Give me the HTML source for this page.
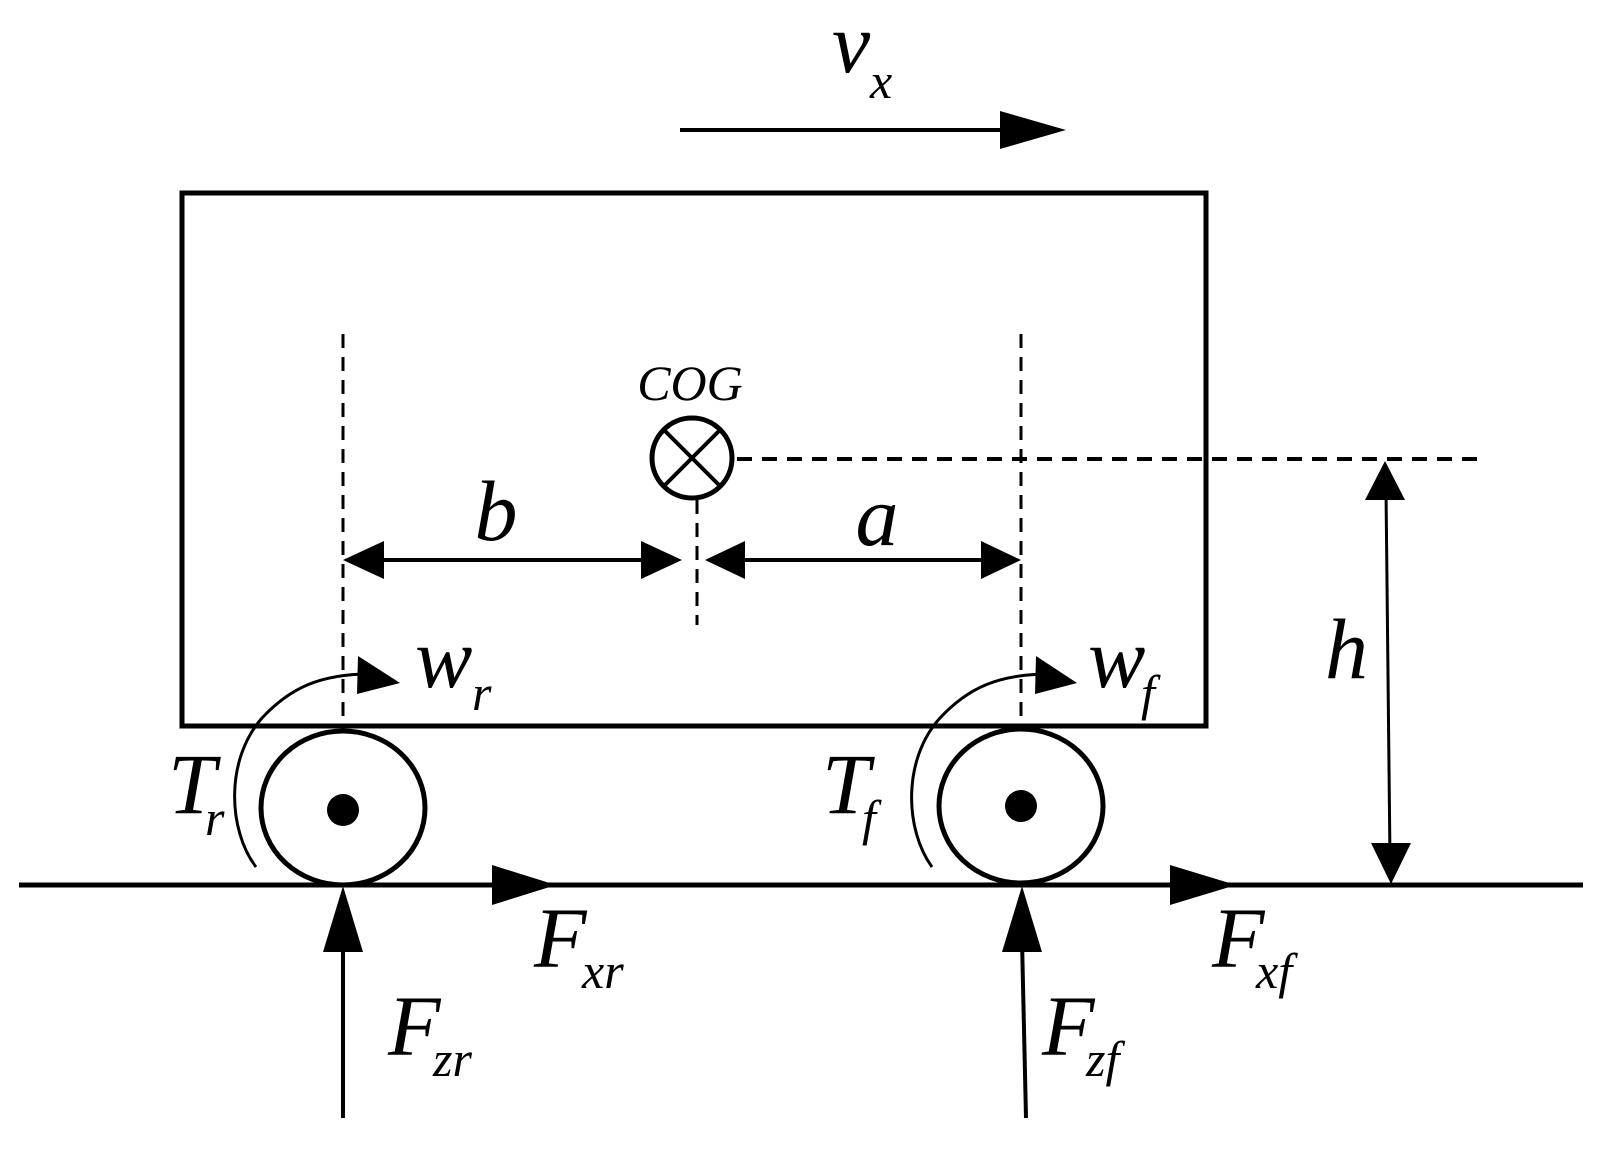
<!DOCTYPE html>
<html><head><meta charset="utf-8"><style>
html,body{margin:0;padding:0;background:#fff;}
svg{display:block;}
text{font-family:"Liberation Serif",serif;font-style:italic;fill:#000;}
</style></head><body>
<svg width="1619" height="1153" viewBox="0 0 1619 1153" xmlns="http://www.w3.org/2000/svg">
<!-- vx arrow -->
<line x1="680" y1="130" x2="1005" y2="130" stroke="#000" stroke-width="4"/>
<polygon points="1000,111 1066,130 1000,149" fill="#000"/>
<text x="832" y="72" font-size="86">v</text>
<text x="870" y="98" font-size="50">x</text>
<!-- body -->
<rect x="182" y="193" width="1024" height="533" fill="none" stroke="#000" stroke-width="5"/>
<!-- dashed verticals -->
<line x1="343" y1="334" x2="343" y2="724" stroke="#000" stroke-width="3" stroke-dasharray="14,9"/>
<line x1="1021" y1="334" x2="1021" y2="724" stroke="#000" stroke-width="3" stroke-dasharray="14,9"/>
<line x1="697" y1="500" x2="697" y2="625" stroke="#000" stroke-width="3" stroke-dasharray="14,9"/>
<line x1="737" y1="459" x2="1477" y2="459" stroke="#000" stroke-width="4" stroke-dasharray="15,10"/>
<!-- COG -->
<ellipse cx="692" cy="458" rx="40" ry="40" fill="none" stroke="#000" stroke-width="5"/>
<line x1="664" y1="430" x2="720" y2="486" stroke="#000" stroke-width="4"/>
<line x1="720" y1="430" x2="664" y2="486" stroke="#000" stroke-width="4"/>
<text x="690" y="400" font-size="50" text-anchor="middle">COG</text>
<!-- b / a dims -->
<line x1="360" y1="560" x2="665" y2="560" stroke="#000" stroke-width="4"/>
<polygon points="343,560 384,541 384,579" fill="#000"/>
<polygon points="682,560 641,541 641,579" fill="#000"/>
<line x1="720" y1="560" x2="1005" y2="560" stroke="#000" stroke-width="4"/>
<polygon points="705,560 745,541 745,579" fill="#000"/>
<polygon points="1021,560 981,541 981,579" fill="#000"/>
<text x="496" y="540" font-size="86" text-anchor="middle">b</text>
<text x="877" y="545" font-size="86" text-anchor="middle">a</text>
<!-- h -->
<line x1="1386" y1="490" x2="1390" y2="860" stroke="#000" stroke-width="3"/>
<polygon points="1385,461 1405,500 1365,500" fill="#000"/>
<polygon points="1391,884 1371,843 1411,843" fill="#000"/>
<text x="1325" y="678" font-size="86">h</text>
<!-- ground -->
<line x1="19" y1="885" x2="1583" y2="885" stroke="#000" stroke-width="5"/>
<!-- wheels -->
<ellipse cx="343" cy="808" rx="82" ry="77" fill="#fff" stroke="#000" stroke-width="5"/>
<circle cx="343" cy="810" r="16" fill="#000"/>
<ellipse cx="1021" cy="806" rx="82" ry="77" fill="#fff" stroke="#000" stroke-width="5"/>
<circle cx="1021" cy="806" r="16" fill="#000"/>
<!-- torque arcs -->
<path d="M256,867 C228,830 225,760 262,718 C290,688 320,674 370,674" fill="none" stroke="#000" stroke-width="3"/>
<polygon points="358,656 400,683 357,694" fill="#000"/>
<path d="M932,867 C905,830 902,760 940,718 C968,688 998,674 1050,674" fill="none" stroke="#000" stroke-width="3"/>
<polygon points="1036,656 1077,683 1035,694" fill="#000"/>
<text x="415" y="687" font-size="86">w</text>
<text x="472" y="710" font-size="50">r</text>
<text x="1088" y="687" font-size="86">w</text>
<text x="1141" y="710" font-size="50">f</text>
<text x="168" y="813" font-size="86">T</text>
<text x="205" y="835" font-size="50">r</text>
<text x="822" y="813" font-size="86">T</text>
<text x="862" y="835" font-size="50">f</text>
<!-- Fx arrows -->
<polygon points="492,865 556,885 492,905" fill="#000"/>
<polygon points="1170,865 1236,885 1170,905" fill="#000"/>
<text x="534" y="967" font-size="86">F</text>
<text x="582" y="988" font-size="50">xr</text>
<text x="1212" y="967" font-size="86">F</text>
<text x="1256" y="988" font-size="50">xf</text>
<!-- Fz arrows -->
<line x1="343" y1="940" x2="343" y2="1118" stroke="#000" stroke-width="4"/>
<polygon points="343,886 363,952 323,952" fill="#000"/>
<line x1="1022" y1="940" x2="1026" y2="1118" stroke="#000" stroke-width="4"/>
<polygon points="1022,886 1042,952 1002,952" fill="#000"/>
<text x="388" y="1055" font-size="86">F</text>
<text x="433" y="1076" font-size="50">zr</text>
<text x="1042" y="1055" font-size="86">F</text>
<text x="1086" y="1076" font-size="50">zf</text>
</svg>
</body></html>
